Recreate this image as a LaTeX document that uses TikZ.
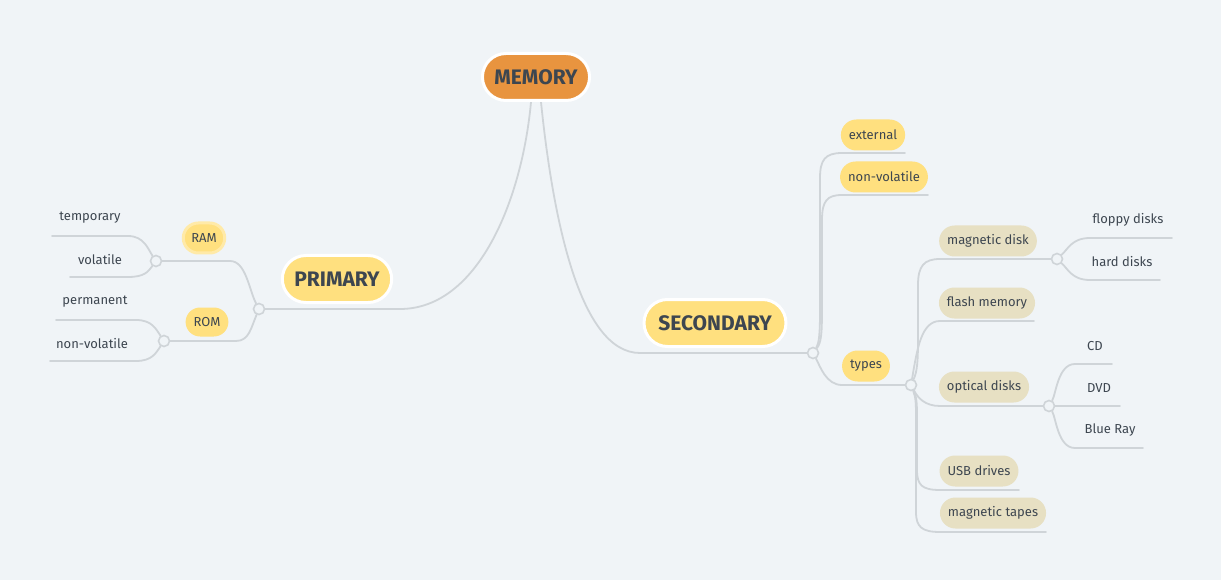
\documentclass[tikz,border=0pt]{standalone}
\usepackage{fontspec}
\setmainfont{Fira Sans}
\usetikzlibrary{calc}
\pgfdeclarelayer{bgl}
\pgfdeclarelayer{edges}
\pgfsetlayers{bgl,edges,main}
\definecolor{bgc}{HTML}{F0F4F7}
\definecolor{linec}{HTML}{CFD4D8}
\definecolor{yel}{HTML}{FFE07F}
\definecolor{yelhalo}{HTML}{FFEAA8}
\definecolor{beige}{HTML}{E7E0C3}
\definecolor{orng}{HTML}{E8943F}
\definecolor{txt}{HTML}{3D4650}
\tikzset{
  mainpill/.style={draw=white, line width=3pt, fill=yel, rounded corners=23.5pt,
    minimum height=47pt, inner xsep=12pt, text=txt,
    font=\fontsize{21}{24}\selectfont\bfseries},
  pill/.style={fill=yel, rounded corners=15.5pt, minimum height=31pt,
    inner xsep=8pt, text=txt, font=\fontsize{13}{15}\selectfont},
  bpill/.style={pill, fill=beige},
  leaf/.style={text=txt, font=\fontsize{13}{15}\selectfont, inner sep=0pt},
  knot/.style={circle, draw=linec, line width=1.6pt, fill=bgc, minimum size=11pt, inner sep=0pt},
  conn/.style={draw=linec, line width=1.8pt, line cap=round},
}
\begin{document}
\begin{tikzpicture}[x=1pt,y=-1pt]
\begin{pgfonlayer}{bgl}
\fill[bgc] (0,0) rectangle (1221,580);
\end{pgfonlayer}
\useasboundingbox (0,0) rectangle (1221,580);

% main nodes
\node[mainpill, fill=orng, minimum width=106pt] (memory) at (536,77) {MEMORY};
\node[mainpill, minimum width=107pt] (primary) at (337,279) {PRIMARY};
\node[mainpill, minimum width=142pt] (secondary) at (715,323) {SECONDARY};

% knots
\node[knot] (pc) at (259,309) {};
\node[knot] (rc) at (156,261) {};
\node[knot] (oc) at (164,341) {};
\node[knot] (sc) at (813,353) {};
\node[knot] (tc) at (911,385) {};
\node[knot] (mc) at (1057,259) {};
\node[knot] (odc) at (1049,406) {};

% level-1 pills
\node[pill, draw=yelhalo, line width=3pt, minimum height=30pt, rounded corners=15pt] (ram) at (204,238) {RAM};
\node[pill, minimum height=29pt, rounded corners=14.5pt] (rom) at (207,322) {ROM};
\node[pill] (external) at (873,135) {external};
\node[pill] (nonvol) at (884,177) {non-volatile};
\node[pill] (types) at (866,366) {types};

\node[bpill] (magdisk) at (988,241) {magnetic disk};
\node[bpill] (flash) at (987,303) {flash memory};
\node[bpill] (optical) at (984,387) {optical disks};
\node[bpill] (usb) at (979,471) {USB drives};
\node[bpill] (tapes) at (993,513) {magnetic tapes};

% leaves
\node[leaf] (temporary) at (90,218) {temporary};
\node[leaf] (volatile) at (100,260) {volatile};
\node[leaf] (permanent) at (95,302) {permanent};
\node[leaf] (nonvol2) at (92,344) {non-volatile};
\node[leaf] (floppy) at (1128,220) {floppy disks};
\node[leaf] (hard) at (1122,262) {hard disks};
\node[leaf] (cd) at (1095,346) {CD};
\node[leaf] (dvd) at (1099,388) {DVD};
\node[leaf] (blueray) at (1110,430) {Blue Ray};

\coordinate (mL) at ($(memory.south)+(-5,0)$);
\coordinate (mR) at ($(memory.south)+(5,0)$);

\begin{pgfonlayer}{edges}
% memory
\draw[conn] (mL) .. controls (522,200) and (478,309) .. (400,309) -- (pc);
\draw[conn] (mR) .. controls (552,210) and (578,353) .. (640,353) -- (sc);
% primary
\draw[conn] (pc) .. controls (249,290) and (246,261) .. (230,261) -- (rc);
\draw[conn] (pc) .. controls (251,328) and (249,341) .. (236,341) -- (oc);
\draw[conn] (rc) .. controls (148,249) and (144,236) .. (128,236) -- (52,236);
\draw[conn] (rc) .. controls (148,272) and (144,277) .. (128,277) -- (70,277);
\draw[conn] (oc) .. controls (156,329) and (152,320) .. (136,320) -- (56,320);
\draw[conn] (oc) .. controls (156,353) and (152,361) .. (136,361) -- (50,361);
% secondary
\draw[conn] (sc) .. controls (819,343) and (820,335) .. (820,310) -- (820,178) .. controls (820,160) and (825,153) .. (842,153) -- (905,153);
\draw[conn] (sc) .. controls (821,343) and (822,335) .. (822,310) -- (822,220) .. controls (822,201) and (827,195) .. (842,195) -- (928,195);
\draw[conn] (sc) .. controls (820,366) and (826,385) .. (842,385) -- (tc);
% types
\draw[conn] (tc) .. controls (917,372) and (918,362) .. (918,340) -- (918,285) .. controls (918,266) and (924,259) .. (940,259) -- (mc);
\draw[conn] (tc) .. controls (917,350) and (921,321) .. (940,321) -- (1034,321);
\draw[conn] (tc) .. controls (918,398) and (925,406) .. (940,406) -- (odc);
\draw[conn] (tc) .. controls (917,398) and (917,405) .. (917,420) -- (917,470) .. controls (917,485) and (922,490) .. (940,490) -- (1019,490);
\draw[conn] (tc) .. controls (916,398) and (916,405) .. (916,420) -- (916,512) .. controls (916,527) and (922,532) .. (940,532) -- (1046,532);
% magnetic disk
\draw[conn] (mc) .. controls (1068,249) and (1072,238) .. (1090,238) -- (1172,238);
\draw[conn] (mc) .. controls (1068,269) and (1072,280) .. (1090,280) -- (1160,280);
% optical
\draw[conn] (odc) .. controls (1056,394) and (1058,364) .. (1075,364) -- (1112,364);
\draw[conn] (odc) -- (1120,406);
\draw[conn] (odc) .. controls (1056,418) and (1058,448) .. (1075,448) -- (1143,448);
\end{pgfonlayer}
\end{tikzpicture}
\end{document}
